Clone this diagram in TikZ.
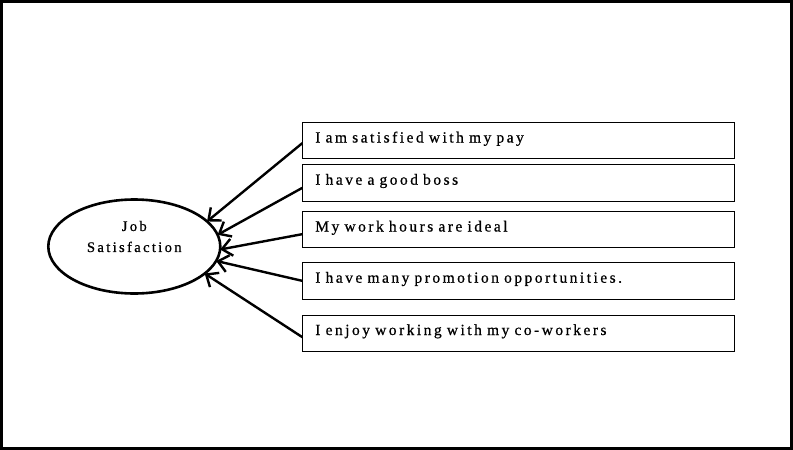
\documentclass[tikz,border=0pt]{standalone}
\usepackage{fontspec}
\setmainfont{Liberation Serif}
\newfontfamily\itemfont{Liberation Serif}[LetterSpace=16,FakeBold=0.7]
\usetikzlibrary{arrows.meta,shapes.geometric}

\begin{document}
\begin{tikzpicture}[x=1pt,y=-1pt,inner sep=0pt,outer sep=0pt,
latent/.style={draw,ellipse,line width=2.6pt,minimum width=172pt,minimum height=94pt},
item/.style={draw,rectangle,line width=1pt,anchor=north west,inner xsep=13pt,inner ysep=0pt,
  text width=406pt,align=left,text height=20pt,text depth=16.3pt,font=\itemfont\fontsize{15.5}{21}\selectfont},
load/.style={line width=2.4pt,-{Straight Barb[length=10pt,width=17pt,line width=2.4pt]}}]

\useasboundingbox (0,0) rectangle (793,450);
\draw[line width=3pt] (1.5,1.5) rectangle (791.5,448.5);

\draw (134.3,246.5) node[latent,label={[align=center,yshift=10pt,font=\itemfont\fontsize{14.6}{21}\selectfont]center:Job\\Satisfaction}] (js) {};

\draw (302.3,122.5) node[item] (pay) {I am satisfied with my pay};
\draw (302.3,164.7) node[item] (boss) {I have a good boss};
\draw (302.3,211.5) node[item] (hours) {My work hours are ideal};
\draw (302.3,262.7) node[item] (promo) {I have many promotion opportunities.};
\draw (302.3,315) node[item] (cowork) {I enjoy working with my co-workers};

\draw[load] ([yshift=-2.5pt]pay.west) -- (js.19);
\draw[load] ([yshift=-5pt]boss.west) -- (js.8);
\draw[load] ([yshift=-4.5pt]hours.west) -- (js.-2);
\draw[load] (promo.west) -- (js.-10);
\draw[load] ([yshift=-4pt]cowork.west) -- (js.-21);
\end{tikzpicture}
\end{document}
